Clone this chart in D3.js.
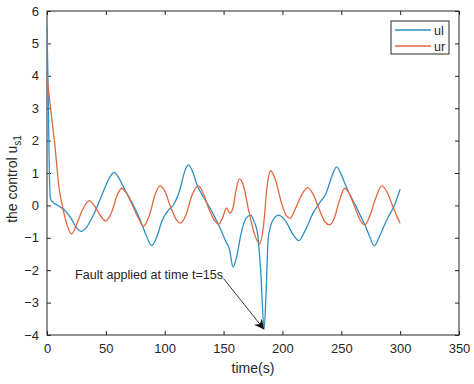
<!DOCTYPE html>
<html><head><meta charset="utf-8">
<script src="https://cdn.jsdelivr.net/npm/d3@7"></script>
<style>body{margin:0;background:#fff}svg{display:block;font-family:"Liberation Sans",Arial,sans-serif}</style>
</head><body><svg id="c" width="474" height="384"></svg>
<script>
const xTicks=[0,50,100,150,200,250,300,350];
const yTicks=[-4,-3,-2,-1,0,1,2,3,4,5,6];
const seriesNames=["ul","ur"];
const ulT=[0,1,2,3,5,10,15,20,25,29,33,40,47,53,57,61,66,72,78,84,89,93,98,103,108,113,117,120,123,128,133,138.5,143,147,152,155,158,161,165,169,173,176,179,181.5,184.5,186,188,192,197,203,209,214,219,226,232,237,242,246,250,253,257,262,266,270,274,278,282,286,290,294,300];
const ulV=[5.55,3.5,1.0,0.2,0.1,-0.02,-0.15,-0.38,-0.68,-0.8,-0.7,-0.25,0.35,0.85,1.02,0.85,0.5,0.1,-0.35,-0.9,-1.24,-1.0,-0.45,-0.15,0.05,0.5,1.05,1.25,1.1,0.58,0.25,-0.08,-0.4,-0.7,-1.12,-1.35,-1.9,-1.6,-0.85,-0.4,-0.3,-0.5,-0.9,-2.0,-3.8,-2.8,-1.0,-0.45,-0.3,-0.5,-0.9,-1.09,-0.8,-0.24,0.1,0.37,0.9,1.19,0.95,0.68,0.35,0.01,-0.3,-0.6,-0.95,-1.25,-1.0,-0.66,-0.35,-0.09,0.5];
const urT=[0,3,7,10,13,17,21,25,30,36,41,46,50,55,60,63.5,67,72,77,82,87,92,96,100,105,110,113.5,118,123,128.5,133,138,142,146,149,152.5,155.3,158,160.5,163.5,167,171,176,180.5,184,187,190,194,199,203,206.5,211,216,221.5,226,231,236,240,244,248,253,257,262,266,270,274,279,284.5,289,294,298,300];
const urV=[4.0,3.0,1.75,0.6,0.0,-0.6,-0.88,-0.6,-0.15,0.15,-0.05,-0.35,-0.48,-0.2,0.35,0.53,0.4,0.05,-0.35,-0.64,-0.3,0.35,0.6,0.45,-0.05,-0.45,-0.55,-0.3,0.3,0.6,0.35,-0.15,-0.45,-0.58,-0.4,-0.08,-0.24,-0.08,0.45,0.82,0.6,-0.1,-0.85,-1.19,-0.6,0.6,1.07,0.8,0.1,-0.3,-0.4,-0.1,0.3,0.55,0.35,-0.1,-0.5,-0.6,-0.4,0.1,0.53,0.35,-0.1,-0.45,-0.6,-0.35,0.2,0.6,0.4,-0.05,-0.4,-0.55];
const colors=["#2d8fc4","#e3673e"];

const svg=d3.select("#c");
const L=47,R=459,T=11,B=335;
const x=d3.scaleLinear().domain([0,350]).range([L,R]);
const y=d3.scaleLinear().domain([-4,6]).range([B,T]);
const axCol="#262626";
function styleAxis(g){g.select(".domain").remove();g.selectAll("line").attr("stroke",axCol);g.selectAll("text").attr("fill",axCol).style("font-size","13px").style("font-family","'Liberation Sans',Arial,sans-serif");}
svg.append("g").attr("transform",`translate(0,${B})`).call(d3.axisBottom(x).tickValues(xTicks).tickSize(-4).tickPadding(9)).call(styleAxis);
svg.append("g").attr("transform",`translate(0,${T})`).call(d3.axisTop(x).tickValues(xTicks).tickSize(-4).tickFormat("")).call(styleAxis);
svg.append("g").attr("transform",`translate(${L},0)`).call(d3.axisLeft(y).tickValues(yTicks).tickSize(-4).tickPadding(8)).call(styleAxis);
svg.append("g").attr("transform",`translate(${R},0)`).call(d3.axisRight(y).tickValues(yTicks).tickSize(-4).tickFormat("")).call(styleAxis);
svg.append("rect").attr("x",L).attr("y",T).attr("width",R-L).attr("height",B-T).attr("fill","none").attr("stroke",axCol).attr("stroke-width",1);

const line=d3.line().x(d=>x(d[0])).y(d=>y(d[1])).curve(d3.curveMonotoneX);
const data=[d3.zip(ulT,ulV),d3.zip(urT,urV)];
const clip=svg.append("clipPath").attr("id","cp").append("rect").attr("x",L).attr("y",T).attr("width",R-L).attr("height",B-T);
data.forEach((d,i)=>{svg.append("path").datum(d).attr("d",line).attr("fill","none").attr("stroke",colors[i]).attr("stroke-width",1.3).attr("clip-path","url(#cp)");});
// redraw ul on top of ur? keep order: ul first, ur on top as MATLAB
// legend
const lg=svg.append("g");
lg.append("rect").attr("x",391).attr("y",21).attr("width",58).attr("height",33).attr("fill","#fff").attr("stroke",axCol).attr("stroke-width",1);
seriesNames.forEach((n,i)=>{
  const yy=30+i*16;
  lg.append("line").attr("x1",395).attr("x2",431).attr("y1",yy).attr("y2",yy).attr("stroke",colors[i]).attr("stroke-width",1.3);
  lg.append("text").attr("x",434).attr("y",yy+4.5).text(n).attr("fill",axCol).style("font-size","12.5px");
});
// annotation
const defs=svg.append("defs");
defs.append("marker").attr("id","ah").attr("viewBox","0 0 10 10").attr("refX",10).attr("refY",5).attr("markerWidth",10).attr("markerHeight",10).attr("markerUnits","userSpaceOnUse").attr("orient","auto")
  .append("path").attr("d","M0,0 L10,5 L0,10 L3,5 Z").attr("fill","#111");
svg.append("line").attr("x1",223.5).attr("y1",278.5).attr("x2",x(184.5)).attr("y2",y(-3.8)+1).attr("stroke","#333").attr("stroke-width",1).attr("marker-end","url(#ah)");
svg.append("text").attr("x",75).attr("y",279).text("Fault applied at time t=15s").attr("fill","#262626").style("font-size","12.6px");
// axis titles
svg.append("text").attr("x",(L+R)/2).attr("y",373).attr("text-anchor","middle").text("time(s)").attr("fill",axCol).style("font-size","14px");
const yt=svg.append("text").attr("transform","translate(17,179) rotate(-90)").attr("text-anchor","middle").attr("fill",axCol).style("font-size","14px");
yt.append("tspan").text("the control u");
yt.append("tspan").attr("dy",4).style("font-size","10px").text("s1");
</script></body></html>
